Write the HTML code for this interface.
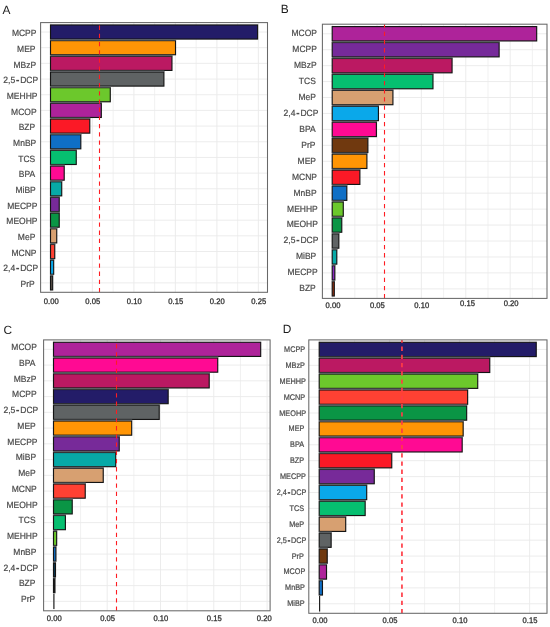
<!DOCTYPE html>
<html><head><meta charset="utf-8"><title>Figure</title>
<style>
html,body{margin:0;padding:0;background:#fff}
svg{display:block}
text{font-family:"Liberation Sans",sans-serif;text-rendering:geometricPrecision}
.yl{fill:#4a4a4a;text-anchor:end;stroke:#4a4a4a;stroke-width:0.2}
.xl{fill:#303030;text-anchor:middle;stroke:#303030;stroke-width:0.28}
.tt{fill:#1c1c1c;font-size:11.9px}
.gM{stroke:#eaeaea;stroke-width:0.9}
.gm{stroke:#ededed;stroke-width:0.8}
.bar{stroke:#141414;stroke-width:1.15}
.bd{fill:none;stroke:#686868;stroke-width:1.05}
.rd{stroke:#ff1c22;stroke-width:1.1;stroke-dasharray:4.3 3.9}
</style></head>
<body>
<svg width="550" height="627" viewBox="0 0 550 627">
<rect x="0" y="0" width="550" height="627" fill="#ffffff"/>
<g id="panelA">
<text class="tt" x="2.4" y="14.00">A</text>
<line class="gm" x1="71.65" x2="71.65" y1="22.6" y2="292.3"/>
<line class="gm" x1="113.15" x2="113.15" y1="22.6" y2="292.3"/>
<line class="gm" x1="154.65" x2="154.65" y1="22.6" y2="292.3"/>
<line class="gm" x1="196.15" x2="196.15" y1="22.6" y2="292.3"/>
<line class="gm" x1="237.65" x2="237.65" y1="22.6" y2="292.3"/>
<line class="gM" x1="50.90" x2="50.90" y1="22.6" y2="292.3"/>
<line class="gM" x1="92.40" x2="92.40" y1="22.6" y2="292.3"/>
<line class="gM" x1="133.90" x2="133.90" y1="22.6" y2="292.3"/>
<line class="gM" x1="175.40" x2="175.40" y1="22.6" y2="292.3"/>
<line class="gM" x1="216.90" x2="216.90" y1="22.6" y2="292.3"/>
<line class="gM" x1="258.40" x2="258.40" y1="22.6" y2="292.3"/>
<line class="gM" x1="40.6" x2="267.5" y1="32.01" y2="32.01"/>
<line class="gM" x1="40.6" x2="267.5" y1="47.69" y2="47.69"/>
<line class="gM" x1="40.6" x2="267.5" y1="63.37" y2="63.37"/>
<line class="gM" x1="40.6" x2="267.5" y1="79.05" y2="79.05"/>
<line class="gM" x1="40.6" x2="267.5" y1="94.73" y2="94.73"/>
<line class="gM" x1="40.6" x2="267.5" y1="110.41" y2="110.41"/>
<line class="gM" x1="40.6" x2="267.5" y1="126.09" y2="126.09"/>
<line class="gM" x1="40.6" x2="267.5" y1="141.77" y2="141.77"/>
<line class="gM" x1="40.6" x2="267.5" y1="157.45" y2="157.45"/>
<line class="gM" x1="40.6" x2="267.5" y1="173.13" y2="173.13"/>
<line class="gM" x1="40.6" x2="267.5" y1="188.81" y2="188.81"/>
<line class="gM" x1="40.6" x2="267.5" y1="204.49" y2="204.49"/>
<line class="gM" x1="40.6" x2="267.5" y1="220.17" y2="220.17"/>
<line class="gM" x1="40.6" x2="267.5" y1="235.85" y2="235.85"/>
<line class="gM" x1="40.6" x2="267.5" y1="251.53" y2="251.53"/>
<line class="gM" x1="40.6" x2="267.5" y1="267.21" y2="267.21"/>
<line class="gM" x1="40.6" x2="267.5" y1="282.89" y2="282.89"/>
<rect class="bar" x="50.50" y="24.95" width="207.10" height="14.11" fill="#231c68"/>
<rect class="bar" x="50.50" y="40.63" width="125.02" height="14.11" fill="#ff9505"/>
<rect class="bar" x="50.50" y="56.31" width="121.45" height="14.11" fill="#bb1962"/>
<rect class="bar" x="50.50" y="71.99" width="113.40" height="14.11" fill="#5f6364"/>
<rect class="bar" x="50.50" y="87.67" width="59.78" height="14.11" fill="#6cc82c"/>
<rect class="bar" x="50.50" y="103.35" width="50.81" height="14.11" fill="#ae239a"/>
<rect class="bar" x="50.50" y="119.03" width="39.28" height="14.11" fill="#fb1926"/>
<rect class="bar" x="50.50" y="134.71" width="30.31" height="14.11" fill="#0f6fc6"/>
<rect class="bar" x="50.50" y="150.39" width="25.75" height="14.11" fill="#06bf70"/>
<rect class="bar" x="50.50" y="166.07" width="13.71" height="14.11" fill="#ff0a93"/>
<rect class="bar" x="50.50" y="181.75" width="11.22" height="14.11" fill="#07a9a7"/>
<rect class="bar" x="50.50" y="197.43" width="8.73" height="14.11" fill="#772a99"/>
<rect class="bar" x="50.50" y="213.11" width="8.73" height="14.11" fill="#0a9545"/>
<rect class="bar" x="50.50" y="228.80" width="6.24" height="14.11" fill="#d7a071"/>
<rect class="bar" x="50.50" y="244.48" width="4.25" height="14.11" fill="#ff4133"/>
<rect class="bar" x="50.50" y="260.16" width="3.17" height="14.11" fill="#0aa8ea"/>
<rect class="bar" x="50.50" y="275.84" width="2.18" height="14.11" fill="#58504a"/>
<rect x="50.30" y="39.10" width="125.72" height="1.50" fill="#5a5e61"/>
<rect x="50.30" y="54.78" width="122.15" height="1.50" fill="#5a5e61"/>
<rect x="50.30" y="70.46" width="114.10" height="1.50" fill="#5a5e61"/>
<rect x="50.30" y="86.14" width="60.48" height="1.50" fill="#5a5e61"/>
<rect x="50.30" y="101.82" width="51.51" height="1.50" fill="#5a5e61"/>
<rect x="50.30" y="117.50" width="39.98" height="1.50" fill="#5a5e61"/>
<rect x="50.30" y="133.18" width="31.01" height="1.50" fill="#5a5e61"/>
<rect x="50.30" y="148.86" width="26.45" height="1.50" fill="#5a5e61"/>
<rect x="50.30" y="164.54" width="14.41" height="1.50" fill="#5a5e61"/>
<rect x="50.30" y="180.22" width="11.92" height="1.50" fill="#5a5e61"/>
<rect x="50.30" y="195.90" width="9.43" height="1.50" fill="#5a5e61"/>
<rect x="50.30" y="211.58" width="9.43" height="1.50" fill="#5a5e61"/>
<rect x="50.30" y="227.26" width="6.94" height="1.50" fill="#5a5e61"/>
<rect x="50.30" y="242.94" width="4.95" height="1.50" fill="#5a5e61"/>
<rect x="50.30" y="258.62" width="3.87" height="1.50" fill="#5a5e61"/>
<rect x="50.30" y="274.30" width="2.88" height="1.50" fill="#5a5e61"/>
<line class="rd" x1="99.50" x2="99.50" y1="292.3" y2="22.6"/>
<rect class="bd" x="40.6" y="22.6" width="226.9" height="269.7"/>
<text class="yl" font-size="8.5" transform="translate(36.45 36.21) scale(1 1.07)">MCPP</text>
<text class="yl" font-size="8.5" transform="translate(35.47 51.89) scale(1 1.07)">MEP</text>
<text class="yl" font-size="8.5" transform="translate(36.15 67.57) scale(1 1.07)">MBzP</text>
<text class="yl" font-size="8.5" transform="translate(38.09 83.25) scale(1 1.07)">2,5<tspan dx="1.07" stroke-width="0.7">-</tspan><tspan dx="1.07">DCP</tspan></text>
<text class="yl" font-size="8.5" transform="translate(37.44 98.93) scale(1 1.07)">MEHHP</text>
<text class="yl" font-size="8.5" transform="translate(36.61 114.61) scale(1 1.07)">MCOP</text>
<text class="yl" font-size="8.5" transform="translate(35.16 130.29) scale(1 1.07)">BZP</text>
<text class="yl" font-size="8.5" transform="translate(36.23 145.97) scale(1 1.07)">MnBP</text>
<text class="yl" font-size="8.5" transform="translate(35.24 161.65) scale(1 1.07)">TCS</text>
<text class="yl" font-size="8.5" transform="translate(35.14 177.33) scale(1 1.07)">BPA</text>
<text class="yl" font-size="8.5" transform="translate(35.77 193.01) scale(1 1.07)">MiBP</text>
<text class="yl" font-size="8.5" transform="translate(37.37 208.69) scale(1 1.07)">MECPP</text>
<text class="yl" font-size="8.5" transform="translate(37.52 224.37) scale(1 1.07)">MEOHP</text>
<text class="yl" font-size="8.5" transform="translate(35.31 240.05) scale(1 1.07)">MeP</text>
<text class="yl" font-size="8.5" transform="translate(36.53 255.73) scale(1 1.07)">MCNP</text>
<text class="yl" font-size="8.5" transform="translate(38.09 271.41) scale(1 1.07)">2,4<tspan dx="1.07" stroke-width="0.7">-</tspan><tspan dx="1.07">DCP</tspan></text>
<text class="yl" font-size="8.5" transform="translate(34.78 287.09) scale(1 1.07)">PrP</text>
<text class="xl" font-size="7.65" transform="translate(51.30 303.8) scale(1 1.05)">0.00</text>
<text class="xl" font-size="7.65" transform="translate(92.80 303.8) scale(1 1.05)">0.05</text>
<text class="xl" font-size="7.65" transform="translate(134.30 303.8) scale(1 1.05)">0.10</text>
<text class="xl" font-size="7.65" transform="translate(175.80 303.8) scale(1 1.05)">0.15</text>
<text class="xl" font-size="7.65" transform="translate(217.30 303.8) scale(1 1.05)">0.20</text>
<text class="xl" font-size="7.65" transform="translate(258.80 303.8) scale(1 1.05)">0.25</text>
</g>
<g id="panelB">
<text class="tt" x="280.7" y="12.80">B</text>
<line class="gm" x1="354.80" x2="354.80" y1="24.2" y2="298.4"/>
<line class="gm" x1="399.20" x2="399.20" y1="24.2" y2="298.4"/>
<line class="gm" x1="443.60" x2="443.60" y1="24.2" y2="298.4"/>
<line class="gm" x1="488.00" x2="488.00" y1="24.2" y2="298.4"/>
<line class="gm" x1="532.40" x2="532.40" y1="24.2" y2="298.4"/>
<line class="gM" x1="332.60" x2="332.60" y1="24.2" y2="298.4"/>
<line class="gM" x1="377.00" x2="377.00" y1="24.2" y2="298.4"/>
<line class="gM" x1="421.40" x2="421.40" y1="24.2" y2="298.4"/>
<line class="gM" x1="465.80" x2="465.80" y1="24.2" y2="298.4"/>
<line class="gM" x1="510.20" x2="510.20" y1="24.2" y2="298.4"/>
<line class="gM" x1="322.4" x2="547.0" y1="33.77" y2="33.77"/>
<line class="gM" x1="322.4" x2="547.0" y1="49.71" y2="49.71"/>
<line class="gM" x1="322.4" x2="547.0" y1="65.65" y2="65.65"/>
<line class="gM" x1="322.4" x2="547.0" y1="81.59" y2="81.59"/>
<line class="gM" x1="322.4" x2="547.0" y1="97.53" y2="97.53"/>
<line class="gM" x1="322.4" x2="547.0" y1="113.47" y2="113.47"/>
<line class="gM" x1="322.4" x2="547.0" y1="129.42" y2="129.42"/>
<line class="gM" x1="322.4" x2="547.0" y1="145.36" y2="145.36"/>
<line class="gM" x1="322.4" x2="547.0" y1="161.30" y2="161.30"/>
<line class="gM" x1="322.4" x2="547.0" y1="177.24" y2="177.24"/>
<line class="gM" x1="322.4" x2="547.0" y1="193.18" y2="193.18"/>
<line class="gM" x1="322.4" x2="547.0" y1="209.13" y2="209.13"/>
<line class="gM" x1="322.4" x2="547.0" y1="225.07" y2="225.07"/>
<line class="gM" x1="322.4" x2="547.0" y1="241.01" y2="241.01"/>
<line class="gM" x1="322.4" x2="547.0" y1="256.95" y2="256.95"/>
<line class="gM" x1="322.4" x2="547.0" y1="272.89" y2="272.89"/>
<line class="gM" x1="322.4" x2="547.0" y1="288.83" y2="288.83"/>
<rect class="bar" x="332.20" y="26.59" width="204.48" height="14.35" fill="#ae239a"/>
<rect class="bar" x="332.20" y="42.53" width="166.92" height="14.35" fill="#762a9a"/>
<rect class="bar" x="332.20" y="58.48" width="119.86" height="14.35" fill="#bb1962"/>
<rect class="bar" x="332.20" y="74.42" width="100.77" height="14.35" fill="#06bf70"/>
<rect class="bar" x="332.20" y="90.36" width="60.72" height="14.35" fill="#d7a071"/>
<rect class="bar" x="332.20" y="106.30" width="46.24" height="14.35" fill="#0aa8ea"/>
<rect class="bar" x="332.20" y="122.24" width="44.20" height="14.35" fill="#ff0a93"/>
<rect class="bar" x="332.20" y="138.18" width="35.68" height="14.35" fill="#70390f"/>
<rect class="bar" x="332.20" y="154.13" width="34.70" height="14.35" fill="#ff9505"/>
<rect class="bar" x="332.20" y="170.07" width="27.68" height="14.35" fill="#fb1926"/>
<rect class="bar" x="332.20" y="186.01" width="14.63" height="14.35" fill="#0f6fc6"/>
<rect class="bar" x="332.20" y="201.95" width="11.08" height="14.35" fill="#6cc82c"/>
<rect class="bar" x="332.20" y="217.89" width="9.57" height="14.35" fill="#0a9545"/>
<rect class="bar" x="332.20" y="233.84" width="6.64" height="14.35" fill="#5f6364"/>
<rect class="bar" x="332.20" y="249.78" width="4.60" height="14.35" fill="#07a9a7"/>
<rect class="bar" x="332.20" y="265.72" width="2.64" height="14.35" fill="#8a2ac0"/>
<rect class="bar" x="332.20" y="281.66" width="2.11" height="14.35" fill="#98300f"/>
<rect x="332.00" y="40.99" width="167.62" height="1.50" fill="#5a5e61"/>
<rect x="332.00" y="56.93" width="120.56" height="1.50" fill="#5a5e61"/>
<rect x="332.00" y="72.87" width="101.47" height="1.50" fill="#5a5e61"/>
<rect x="332.00" y="88.81" width="61.42" height="1.50" fill="#5a5e61"/>
<rect x="332.00" y="104.75" width="46.94" height="1.50" fill="#5a5e61"/>
<rect x="332.00" y="120.70" width="44.90" height="1.50" fill="#5a5e61"/>
<rect x="332.00" y="136.64" width="36.38" height="1.50" fill="#5a5e61"/>
<rect x="332.00" y="152.58" width="35.40" height="1.50" fill="#5a5e61"/>
<rect x="332.00" y="168.52" width="28.38" height="1.50" fill="#5a5e61"/>
<rect x="332.00" y="184.46" width="15.33" height="1.50" fill="#5a5e61"/>
<rect x="332.00" y="200.40" width="11.78" height="1.50" fill="#5a5e61"/>
<rect x="332.00" y="216.35" width="10.27" height="1.50" fill="#5a5e61"/>
<rect x="332.00" y="232.29" width="7.34" height="1.50" fill="#5a5e61"/>
<rect x="332.00" y="248.23" width="5.30" height="1.50" fill="#5a5e61"/>
<rect x="332.00" y="264.17" width="3.34" height="1.50" fill="#5a5e61"/>
<rect x="332.00" y="280.11" width="2.81" height="1.50" fill="#5a5e61"/>
<line class="rd" x1="384.50" x2="384.50" y1="298.4" y2="24.2"/>
<rect class="bd" x="322.4" y="24.2" width="224.6" height="274.2"/>
<text class="yl" font-size="8.5" transform="translate(317.02 36.17) scale(1 1.07)">MCOP</text>
<text class="yl" font-size="8.5" transform="translate(316.89 52.11) scale(1 1.07)">MCPP</text>
<text class="yl" font-size="8.5" transform="translate(316.62 68.05) scale(1 1.07)">MBzP</text>
<text class="yl" font-size="8.5" transform="translate(315.81 83.99) scale(1 1.07)">TCS</text>
<text class="yl" font-size="8.5" transform="translate(315.88 99.93) scale(1 1.07)">MeP</text>
<text class="yl" font-size="8.5" transform="translate(318.33 115.87) scale(1 1.07)">2,4<tspan dx="1.07" stroke-width="0.7">-</tspan><tspan dx="1.07">DCP</tspan></text>
<text class="yl" font-size="8.5" transform="translate(315.73 131.82) scale(1 1.07)">BPA</text>
<text class="yl" font-size="8.5" transform="translate(315.41 147.76) scale(1 1.07)">PrP</text>
<text class="yl" font-size="8.5" transform="translate(316.02 163.70) scale(1 1.07)">MEP</text>
<text class="yl" font-size="8.5" transform="translate(316.95 179.64) scale(1 1.07)">MCNP</text>
<text class="yl" font-size="8.5" transform="translate(316.69 195.58) scale(1 1.07)">MnBP</text>
<text class="yl" font-size="8.5" transform="translate(317.76 211.53) scale(1 1.07)">MEHHP</text>
<text class="yl" font-size="8.5" transform="translate(317.83 227.47) scale(1 1.07)">MEOHP</text>
<text class="yl" font-size="8.5" transform="translate(318.33 243.41) scale(1 1.07)">2,5<tspan dx="1.07" stroke-width="0.7">-</tspan><tspan dx="1.07">DCP</tspan></text>
<text class="yl" font-size="8.5" transform="translate(316.28 259.35) scale(1 1.07)">MiBP</text>
<text class="yl" font-size="8.5" transform="translate(317.69 275.29) scale(1 1.07)">MECPP</text>
<text class="yl" font-size="8.5" transform="translate(315.75 291.23) scale(1 1.07)">BZP</text>
<text class="xl" font-size="7.65" transform="translate(333.00 308.2) scale(1 1.05)">0.00</text>
<text class="xl" font-size="7.65" transform="translate(377.40 308.2) scale(1 1.05)">0.05</text>
<text class="xl" font-size="7.65" transform="translate(421.80 308.2) scale(1 1.05)">0.10</text>
<text class="xl" font-size="7.65" transform="translate(467.50 305.6) scale(1 1.05)">0.15</text>
<text class="xl" font-size="7.65" transform="translate(511.10 305.6) scale(1 1.05)">0.20</text>
</g>
<g id="panelC">
<text class="tt" x="3.4" y="333.85">C</text>
<line class="gm" x1="80.55" x2="80.55" y1="339.9" y2="610.8"/>
<line class="gm" x1="133.85" x2="133.85" y1="339.9" y2="610.8"/>
<line class="gm" x1="187.15" x2="187.15" y1="339.9" y2="610.8"/>
<line class="gm" x1="240.45" x2="240.45" y1="339.9" y2="610.8"/>
<line class="gM" x1="53.90" x2="53.90" y1="339.9" y2="610.8"/>
<line class="gM" x1="107.20" x2="107.20" y1="339.9" y2="610.8"/>
<line class="gM" x1="160.50" x2="160.50" y1="339.9" y2="610.8"/>
<line class="gM" x1="213.80" x2="213.80" y1="339.9" y2="610.8"/>
<line class="gM" x1="267.10" x2="267.10" y1="339.9" y2="610.8"/>
<line class="gM" x1="43.6" x2="270.1" y1="349.35" y2="349.35"/>
<line class="gM" x1="43.6" x2="270.1" y1="365.10" y2="365.10"/>
<line class="gM" x1="43.6" x2="270.1" y1="380.85" y2="380.85"/>
<line class="gM" x1="43.6" x2="270.1" y1="396.60" y2="396.60"/>
<line class="gM" x1="43.6" x2="270.1" y1="412.35" y2="412.35"/>
<line class="gM" x1="43.6" x2="270.1" y1="428.10" y2="428.10"/>
<line class="gM" x1="43.6" x2="270.1" y1="443.85" y2="443.85"/>
<line class="gM" x1="43.6" x2="270.1" y1="459.60" y2="459.60"/>
<line class="gM" x1="43.6" x2="270.1" y1="475.35" y2="475.35"/>
<line class="gM" x1="43.6" x2="270.1" y1="491.10" y2="491.10"/>
<line class="gM" x1="43.6" x2="270.1" y1="506.85" y2="506.85"/>
<line class="gM" x1="43.6" x2="270.1" y1="522.60" y2="522.60"/>
<line class="gM" x1="43.6" x2="270.1" y1="538.35" y2="538.35"/>
<line class="gM" x1="43.6" x2="270.1" y1="554.10" y2="554.10"/>
<line class="gM" x1="43.6" x2="270.1" y1="569.85" y2="569.85"/>
<line class="gM" x1="43.6" x2="270.1" y1="585.60" y2="585.60"/>
<line class="gM" x1="43.6" x2="270.1" y1="601.35" y2="601.35"/>
<rect class="bar" x="53.50" y="342.26" width="207.19" height="14.18" fill="#ae239a"/>
<rect class="bar" x="53.50" y="358.01" width="164.23" height="14.18" fill="#ff0a93"/>
<rect class="bar" x="53.50" y="373.76" width="155.70" height="14.18" fill="#bb1962"/>
<rect class="bar" x="53.50" y="389.51" width="114.66" height="14.18" fill="#231c68"/>
<rect class="bar" x="53.50" y="405.26" width="105.71" height="14.18" fill="#5f6364"/>
<rect class="bar" x="53.50" y="421.01" width="78.20" height="14.18" fill="#ff9505"/>
<rect class="bar" x="53.50" y="436.76" width="65.73" height="14.18" fill="#772a99"/>
<rect class="bar" x="53.50" y="452.51" width="62.21" height="14.18" fill="#07a9a7"/>
<rect class="bar" x="53.50" y="468.26" width="49.74" height="14.18" fill="#d7a071"/>
<rect class="bar" x="53.50" y="484.01" width="31.73" height="14.18" fill="#ff4133"/>
<rect class="bar" x="53.50" y="499.76" width="18.72" height="14.18" fill="#0a9545"/>
<rect class="bar" x="53.50" y="515.51" width="11.90" height="14.18" fill="#06bf70"/>
<rect class="bar" x="53.50" y="531.26" width="3.16" height="14.18" fill="#6cc82c"/>
<rect class="bar" x="53.50" y="547.01" width="2.41" height="14.18" fill="#0f6fc6"/>
<rect class="bar" x="53.50" y="562.76" width="1.99" height="14.18" fill="#0b3a55"/>
<rect class="bar" x="53.50" y="578.51" width="1.45" height="14.18" fill="#1a1a1a"/>
<line x1="53.90" x2="53.90" y1="593.76" y2="608.94" stroke="#1a1a1a" stroke-width="1.15"/>
<rect x="53.30" y="356.47" width="164.93" height="1.50" fill="#5a5e61"/>
<rect x="53.30" y="372.22" width="156.40" height="1.50" fill="#5a5e61"/>
<rect x="53.30" y="387.97" width="115.36" height="1.50" fill="#5a5e61"/>
<rect x="53.30" y="403.72" width="106.41" height="1.50" fill="#5a5e61"/>
<rect x="53.30" y="419.47" width="78.90" height="1.50" fill="#5a5e61"/>
<rect x="53.30" y="435.22" width="66.43" height="1.50" fill="#5a5e61"/>
<rect x="53.30" y="450.97" width="62.91" height="1.50" fill="#5a5e61"/>
<rect x="53.30" y="466.72" width="50.44" height="1.50" fill="#5a5e61"/>
<rect x="53.30" y="482.47" width="32.43" height="1.50" fill="#5a5e61"/>
<rect x="53.30" y="498.22" width="19.42" height="1.50" fill="#5a5e61"/>
<rect x="53.30" y="513.97" width="12.60" height="1.50" fill="#5a5e61"/>
<rect x="53.30" y="529.72" width="3.86" height="1.50" fill="#5a5e61"/>
<rect x="53.30" y="545.47" width="3.11" height="1.50" fill="#5a5e61"/>
<rect x="53.30" y="561.22" width="2.69" height="1.50" fill="#5a5e61"/>
<rect x="53.30" y="576.97" width="2.15" height="1.50" fill="#5a5e61"/>
<line class="rd" x1="116.50" x2="116.50" y1="610.8" y2="339.9"/>
<rect class="bd" x="43.6" y="339.9" width="226.5" height="270.9"/>
<text class="yl" font-size="8.5" transform="translate(36.83 350.15) scale(1 1.07)">MCOP</text>
<text class="yl" font-size="8.5" transform="translate(35.46 365.90) scale(1 1.07)">BPA</text>
<text class="yl" font-size="8.5" transform="translate(36.40 381.65) scale(1 1.07)">MBzP</text>
<text class="yl" font-size="8.5" transform="translate(36.68 397.40) scale(1 1.07)">MCPP</text>
<text class="yl" font-size="8.5" transform="translate(38.21 413.15) scale(1 1.07)">2,5<tspan dx="1.07" stroke-width="0.7">-</tspan><tspan dx="1.07">DCP</tspan></text>
<text class="yl" font-size="8.5" transform="translate(35.76 428.90) scale(1 1.07)">MEP</text>
<text class="yl" font-size="8.5" transform="translate(37.53 444.65) scale(1 1.07)">MECPP</text>
<text class="yl" font-size="8.5" transform="translate(36.05 460.40) scale(1 1.07)">MiBP</text>
<text class="yl" font-size="8.5" transform="translate(35.62 476.15) scale(1 1.07)">MeP</text>
<text class="yl" font-size="8.5" transform="translate(36.75 491.90) scale(1 1.07)">MCNP</text>
<text class="yl" font-size="8.5" transform="translate(37.68 507.65) scale(1 1.07)">MEOHP</text>
<text class="yl" font-size="8.5" transform="translate(35.55 523.40) scale(1 1.07)">TCS</text>
<text class="yl" font-size="8.5" transform="translate(37.60 539.15) scale(1 1.07)">MEHHP</text>
<text class="yl" font-size="8.5" transform="translate(36.47 554.90) scale(1 1.07)">MnBP</text>
<text class="yl" font-size="8.5" transform="translate(38.21 570.65) scale(1 1.07)">2,4<tspan dx="1.07" stroke-width="0.7">-</tspan><tspan dx="1.07">DCP</tspan></text>
<text class="yl" font-size="8.5" transform="translate(35.48 586.40) scale(1 1.07)">BZP</text>
<text class="yl" font-size="8.5" transform="translate(35.13 602.15) scale(1 1.07)">PrP</text>
<text class="xl" font-size="7.65" transform="translate(54.30 620.7) scale(1 1.05)">0.00</text>
<text class="xl" font-size="7.65" transform="translate(107.60 620.7) scale(1 1.05)">0.05</text>
<text class="xl" font-size="7.65" transform="translate(160.90 620.7) scale(1 1.05)">0.10</text>
<text class="xl" font-size="7.65" transform="translate(214.20 620.7) scale(1 1.05)">0.15</text>
<text class="xl" font-size="7.65" transform="translate(264.20 620.7) scale(1 1.05)">0.20</text>
</g>
<g id="panelD">
<text class="tt" x="282.8" y="332.90">D</text>
<line class="gm" x1="354.60" x2="354.60" y1="339.9" y2="613.3"/>
<line class="gm" x1="424.60" x2="424.60" y1="339.9" y2="613.3"/>
<line class="gm" x1="494.60" x2="494.60" y1="339.9" y2="613.3"/>
<line class="gM" x1="319.60" x2="319.60" y1="339.9" y2="613.3"/>
<line class="gM" x1="389.60" x2="389.60" y1="339.9" y2="613.3"/>
<line class="gM" x1="459.60" x2="459.60" y1="339.9" y2="613.3"/>
<line class="gM" x1="529.60" x2="529.60" y1="339.9" y2="613.3"/>
<line class="gM" x1="308.8" x2="547.0" y1="349.44" y2="349.44"/>
<line class="gM" x1="308.8" x2="547.0" y1="365.33" y2="365.33"/>
<line class="gM" x1="308.8" x2="547.0" y1="381.23" y2="381.23"/>
<line class="gM" x1="308.8" x2="547.0" y1="397.12" y2="397.12"/>
<line class="gM" x1="308.8" x2="547.0" y1="413.02" y2="413.02"/>
<line class="gM" x1="308.8" x2="547.0" y1="428.91" y2="428.91"/>
<line class="gM" x1="308.8" x2="547.0" y1="444.81" y2="444.81"/>
<line class="gM" x1="308.8" x2="547.0" y1="460.70" y2="460.70"/>
<line class="gM" x1="308.8" x2="547.0" y1="476.60" y2="476.60"/>
<line class="gM" x1="308.8" x2="547.0" y1="492.50" y2="492.50"/>
<line class="gM" x1="308.8" x2="547.0" y1="508.39" y2="508.39"/>
<line class="gM" x1="308.8" x2="547.0" y1="524.29" y2="524.29"/>
<line class="gM" x1="308.8" x2="547.0" y1="540.18" y2="540.18"/>
<line class="gM" x1="308.8" x2="547.0" y1="556.08" y2="556.08"/>
<line class="gM" x1="308.8" x2="547.0" y1="571.97" y2="571.97"/>
<line class="gM" x1="308.8" x2="547.0" y1="587.87" y2="587.87"/>
<line class="gM" x1="308.8" x2="547.0" y1="603.76" y2="603.76"/>
<rect class="bar" x="319.20" y="342.28" width="217.04" height="14.31" fill="#231c68"/>
<rect class="bar" x="319.20" y="358.18" width="170.56" height="14.31" fill="#bb1962"/>
<rect class="bar" x="319.20" y="374.07" width="158.52" height="14.31" fill="#6cc82c"/>
<rect class="bar" x="319.20" y="389.97" width="148.44" height="14.31" fill="#ff4133"/>
<rect class="bar" x="319.20" y="405.87" width="147.46" height="14.31" fill="#0a9545"/>
<rect class="bar" x="319.20" y="421.76" width="143.96" height="14.31" fill="#ff9505"/>
<rect class="bar" x="319.20" y="437.66" width="142.98" height="14.31" fill="#ff0a93"/>
<rect class="bar" x="319.20" y="453.55" width="72.56" height="14.31" fill="#fb1926"/>
<rect class="bar" x="319.20" y="469.45" width="55.06" height="14.31" fill="#772a99"/>
<rect class="bar" x="319.20" y="485.34" width="47.50" height="14.31" fill="#0aa8ea"/>
<rect class="bar" x="319.20" y="501.24" width="45.96" height="14.31" fill="#06bf70"/>
<rect class="bar" x="319.20" y="517.13" width="26.50" height="14.31" fill="#d7a071"/>
<rect class="bar" x="319.20" y="533.03" width="11.94" height="14.31" fill="#5f6364"/>
<rect class="bar" x="319.20" y="548.92" width="8.02" height="14.31" fill="#70390f"/>
<rect class="bar" x="319.20" y="564.82" width="7.32" height="14.31" fill="#ae239a"/>
<rect class="bar" x="319.20" y="580.71" width="3.26" height="14.31" fill="#0f6fc6"/>
<line x1="319.60" x2="319.60" y1="596.11" y2="611.42" stroke="#1a1a1a" stroke-width="1.15"/>
<rect x="319.00" y="356.63" width="171.26" height="1.50" fill="#5a5e61"/>
<rect x="319.00" y="372.53" width="159.22" height="1.50" fill="#5a5e61"/>
<rect x="319.00" y="388.43" width="149.14" height="1.50" fill="#5a5e61"/>
<rect x="319.00" y="404.32" width="148.16" height="1.50" fill="#5a5e61"/>
<rect x="319.00" y="420.22" width="144.66" height="1.50" fill="#5a5e61"/>
<rect x="319.00" y="436.11" width="143.68" height="1.50" fill="#5a5e61"/>
<rect x="319.00" y="452.01" width="73.26" height="1.50" fill="#5a5e61"/>
<rect x="319.00" y="467.90" width="55.76" height="1.50" fill="#5a5e61"/>
<rect x="319.00" y="483.80" width="48.20" height="1.50" fill="#5a5e61"/>
<rect x="319.00" y="499.69" width="46.66" height="1.50" fill="#5a5e61"/>
<rect x="319.00" y="515.59" width="27.20" height="1.50" fill="#5a5e61"/>
<rect x="319.00" y="531.48" width="12.64" height="1.50" fill="#5a5e61"/>
<rect x="319.00" y="547.38" width="8.72" height="1.50" fill="#5a5e61"/>
<rect x="319.00" y="563.27" width="8.02" height="1.50" fill="#5a5e61"/>
<rect x="319.00" y="579.17" width="3.96" height="1.50" fill="#5a5e61"/>
<line class="rd" x1="401.95" x2="401.95" y1="613.3" y2="339.9" style="stroke-width:1.7;stroke:#ff3c46"/>
<rect class="bd" x="308.8" y="339.9" width="238.2" height="273.4"/>
<text class="yl" font-size="7.3" transform="translate(305.16 351.94) scale(1 1.11)">MCPP</text>
<text class="yl" font-size="7.3" transform="translate(304.92 367.83) scale(1 1.11)">MBzP</text>
<text class="yl" font-size="7.3" transform="translate(305.95 383.73) scale(1 1.11)">MEHHP</text>
<text class="yl" font-size="7.3" transform="translate(305.22 399.62) scale(1 1.11)">MCNP</text>
<text class="yl" font-size="7.3" transform="translate(306.02 415.52) scale(1 1.11)">MEOHP</text>
<text class="yl" font-size="7.3" transform="translate(304.37 431.41) scale(1 1.11)">MEP</text>
<text class="yl" font-size="7.3" transform="translate(304.11 447.31) scale(1 1.11)">BPA</text>
<text class="yl" font-size="7.3" transform="translate(304.13 463.20) scale(1 1.11)">BZP</text>
<text class="yl" font-size="7.3" transform="translate(305.89 479.10) scale(1 1.11)">MECPP</text>
<text class="yl" font-size="7.3" transform="translate(306.47 495.00) scale(1 1.11)">2,4<tspan dx="0.92" stroke-width="0.7">-</tspan><tspan dx="0.92">DCP</tspan></text>
<text class="yl" font-size="7.3" transform="translate(304.19 510.89) scale(1 1.11)">TCS</text>
<text class="yl" font-size="7.3" transform="translate(304.25 526.79) scale(1 1.11)">MeP</text>
<text class="yl" font-size="7.3" transform="translate(306.47 542.68) scale(1 1.11)">2,5<tspan dx="0.92" stroke-width="0.7">-</tspan><tspan dx="0.92">DCP</tspan></text>
<text class="yl" font-size="7.3" transform="translate(303.83 558.58) scale(1 1.11)">PrP</text>
<text class="yl" font-size="7.3" transform="translate(305.29 574.47) scale(1 1.11)">MCOP</text>
<text class="yl" font-size="7.3" transform="translate(304.98 590.37) scale(1 1.11)">MnBP</text>
<text class="yl" font-size="7.3" transform="translate(304.62 606.26) scale(1 1.11)">MiBP</text>
<text class="xl" font-size="7.6" transform="translate(320.00 622.9) scale(1 1.05)">0.00</text>
<text class="xl" font-size="7.6" transform="translate(390.00 622.9) scale(1 1.05)">0.05</text>
<text class="xl" font-size="7.6" transform="translate(460.00 622.9) scale(1 1.05)">0.10</text>
<text class="xl" font-size="7.6" transform="translate(530.00 622.9) scale(1 1.05)">0.15</text>
</g>
</svg>
</body></html>
